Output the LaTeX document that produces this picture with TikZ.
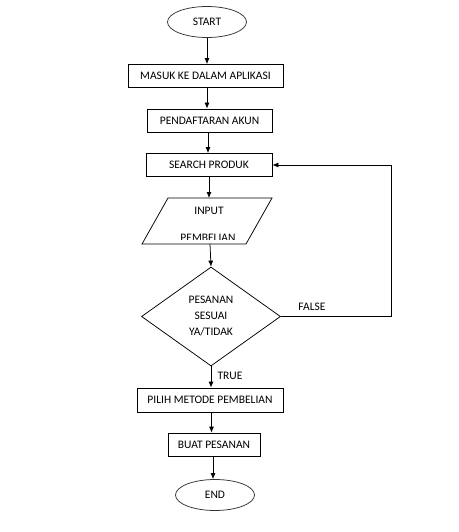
\documentclass[tikz,border=0pt]{standalone}
\usepackage{fontspec}
\setmainfont{Carlito}
\usetikzlibrary{shapes.geometric,arrows.meta}

\begin{document}
\begin{tikzpicture}[x=1pt,y=-1pt,
  font=\fontsize{11.5}{16}\selectfont,
  line width=0.75pt,
  terminal/.style={draw=black!80, ellipse, minimum width=79pt, minimum height=31pt, inner sep=0pt},
  process/.style={draw, rectangle, minimum height=23pt, inner sep=0pt},
  decision/.style={draw, diamond, minimum width=139pt, minimum height=99pt, inner sep=0pt, align=center},
  flow/.style={-{Latex[length=6pt,width=5pt]}}]
\useasboundingbox (0,0) rectangle (458,532);
% nodes
\node[terminal] (start) at (207,22) {START};
\node[process, minimum width=155pt] (masuk) at (205.5,76) {MASUK KE DALAM APLIKASI};
\node[process, minimum width=125pt] (akun) at (209.5,120.5) {PENDAFTARAN AKUN};
\node[process, minimum width=126pt] (search) at (209,165) {SEARCH PRODUK};
% parallelogram
\coordinate (inA) at (168,198);
\coordinate (inB) at (272,198);
\coordinate (inC) at (246,244);
\coordinate (inD) at (142,244);
\draw (inA) -- (inB) -- (inC) -- (inD) -- cycle;
\node[anchor=base] (inputtxt) at (209,214) {INPUT};
\begin{scope}
\clip (140,225) rectangle (280,239.5);
\node[anchor=base] (beli) at (208,241) {PEMBELIAN};
\end{scope}
\node[decision] (cek) at (211,316.5) {PESANAN\\SESUAI\\YA/TIDAK};
\node[process, minimum width=146pt, minimum height=24pt] (metode) at (210,400) {PILIH METODE PEMBELIAN};
\node[process, minimum width=92pt] (buat) at (214,444.5) {BUAT PESANAN};
\node[terminal] (end) at (215,495) {END};
\coordinate (balik) at (391,165);
\coordinate (inTop) at (209,198);
\coordinate (inBot) at (210,244);
% connectors
\draw[flow] (start.south) -- (start.south |- masuk.north);
\draw[flow] (masuk.south -| 207,0) -- (akun.north -| 207,0);
\draw[flow] (akun.south -| 208,0) -- (search.north -| 208,0);
\draw[flow] (search.south -| inTop) -- (inTop);
\draw[flow] (inBot) -- (cek.north);
\draw[flow] (cek.south) -- (cek.south |- metode.north);
\draw[flow] (metode.south -| 211.5,0) -- (buat.north -| 211.5,0);
\draw[flow] (buat.south -| 213,0) -- (end.north -| 213,0);
\draw[flow] (cek.east) -| (balik) -- (search.east);
% labels
\node[anchor=base] (salah) at (312,310) {FALSE};
\node[anchor=base] (benar) at (230,379) {TRUE};
\end{tikzpicture}
\end{document}
